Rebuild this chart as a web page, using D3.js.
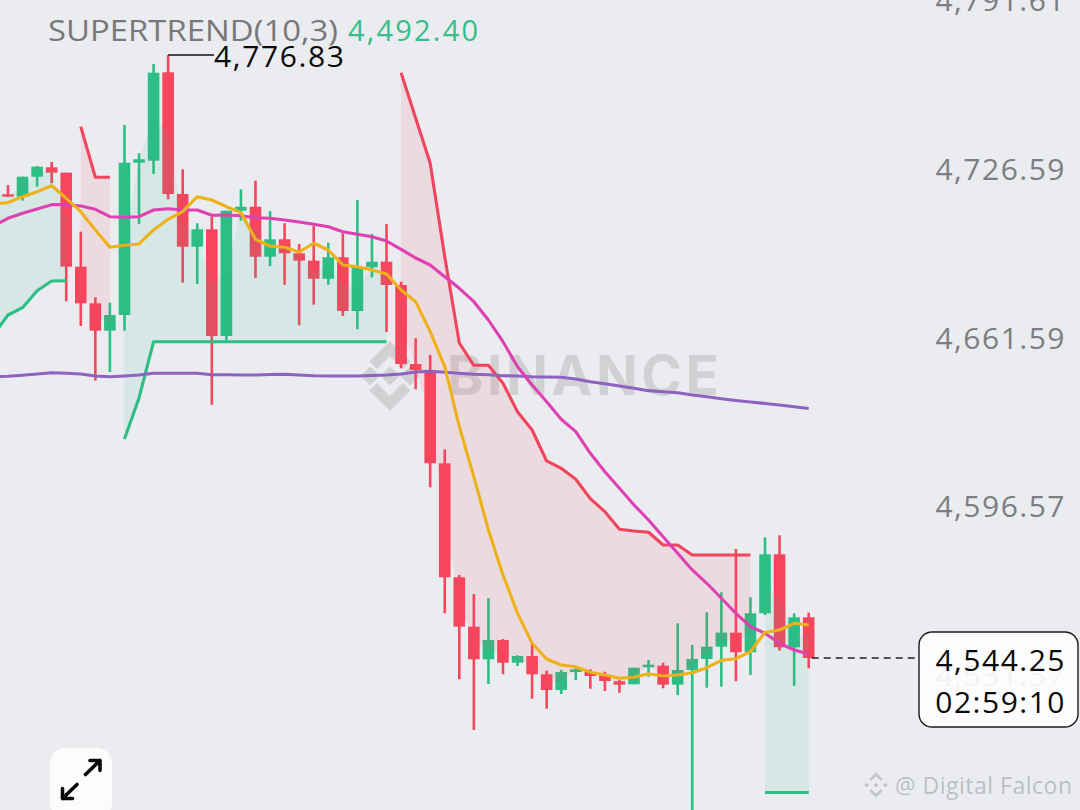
<!DOCTYPE html>
<html><head><meta charset="utf-8">
<style>html,body{margin:0;padding:0;background:#EAECF0;overflow:hidden}svg{display:block}text{font-family:"Open Sans","Noto Sans",sans-serif}</style>
<script src="https://cdn.jsdelivr.net/npm/d3@7"></script></head><body><div id="c"></div>
<script>
const opens=[4723.11,4722.18,4729.89,4733.52,4731.44,4695.18,4681.06,4670.50,4676.55,4735.29,4736.07,4770.16,4723.22,4702.90,4709.61,4668.45,4716.78,4718.32,4699.04,4705.75,4700.35,4697.50,4690.55,4698.81,4678.09,4694.95,4697.11,4688.12,4657.65,4655.34,4619.35,4575.38,4556.33,4543.75,4551.20,4542.44,4545.02,4537.97,4531.91,4538.85,4538.85,4537.31,4535.26,4534.11,4540.67,4541.28,4533.96,4539.62,4543.87,4548.61,4554.02,4546.45,4561.49,4584.25,4548.38,4559.95];
const highs=[4726.69,4729.89,4734.02,4735.56,4731.44,4708.68,4683.38,4681.30,4749.84,4738.92,4773.36,4776.83,4732.75,4711.92,4714.47,4716.78,4725.03,4728.35,4716.67,4711.92,4703.94,4710.88,4704.44,4708.06,4720.91,4707.79,4711.65,4689.39,4667.57,4661.12,4624.75,4576.27,4568.94,4567.28,4551.58,4545.29,4549.92,4539.36,4539.62,4540.28,4539.89,4538.97,4535.77,4540.51,4543.48,4542.44,4557.64,4549.27,4561.88,4569.59,4586.30,4567.66,4590.81,4591.58,4561.49,4561.73];
const lows=[4722.18,4720.64,4726.04,4727.35,4681.84,4672.31,4651.21,4654.57,4670.50,4711.65,4730.94,4721.18,4689.01,4688.51,4641.95,4666.64,4712.92,4690.82,4695.45,4688.24,4672.58,4680.52,4688.24,4676.17,4671.04,4691.09,4669.99,4655.99,4647.89,4610.09,4561.49,4536.04,4516.48,4534.22,4537.97,4541.17,4528.55,4524.70,4530.37,4535.77,4532.41,4531.52,4530.87,4534.11,4537.04,4532.56,4529.98,4477.91,4532.80,4533.18,4535.26,4537.70,4560.84,4547.07,4533.57,4540.28];
const closes=[4722.18,4729.89,4733.75,4731.44,4695.18,4681.06,4670.50,4676.55,4735.29,4736.61,4770.01,4723.22,4702.90,4709.61,4668.45,4716.78,4718.32,4699.04,4705.75,4700.35,4697.50,4690.55,4698.81,4678.09,4694.95,4697.11,4688.12,4657.65,4655.34,4619.35,4575.38,4556.33,4543.75,4551.20,4542.44,4545.02,4537.97,4531.91,4538.85,4539.89,4537.31,4535.38,4533.96,4540.51,4541.67,4533.96,4539.62,4543.87,4548.61,4554.02,4546.45,4561.49,4584.25,4548.38,4559.95,4544.25];
// moving averages: the first value belongs to the candle just left of the frame
const emaFast=[4719.37,4719.87,4722.18,4724.11,4726.42,4721.56,4716.40,4709.34,4702.66,4703.44,4703.94,4709.34,4713.46,4716.40,4722.18,4720.91,4718.32,4716.01,4705.75,4703.17,4702.66,4700.85,4704.21,4701.62,4695.84,4695.18,4693.91,4692.37,4686.19,4681.68,4670.11,4656.61,4633.47,4614.18,4593.62,4576.27,4561.49,4549.92,4543.87,4541.55,4540.90,4538.74,4537.70,4536.42,4536.81,4538.20,4537.31,4537.70,4538.58,4540.51,4543.37,4543.98,4546.68,4554.17,4555.06,4557.64,4556.98];
const emaMid=[4710.88,4713.85,4715.78,4717.44,4719.10,4719.10,4718.59,4717.32,4714.47,4714.24,4714.47,4717.05,4717.55,4717.05,4717.05,4715.01,4715.12,4714.85,4714.08,4713.85,4713.19,4712.42,4711.54,4710.61,4708.68,4707.68,4706.75,4705.09,4701.89,4698.54,4695.84,4691.32,4686.85,4681.68,4674.62,4666.25,4656.61,4649.55,4643.11,4636.32,4631.54,4623.21,4616.11,4609.71,4603.27,4597.48,4591.04,4584.64,4578.20,4573.07,4567.28,4561.49,4556.33,4553.78,4549.92,4547.34,4545.80];
const emaSlow=[4652.79,4652.91,4653.29,4653.79,4654.30,4654.06,4653.79,4653.02,4652.75,4653.02,4653.41,4654.06,4654.06,4654.06,4654.06,4653.52,4653.48,4653.41,4653.41,4653.60,4653.68,4653.41,4653.14,4653.02,4653.02,4653.02,4653.22,4653.41,4653.79,4654.57,4654.84,4654.45,4654.06,4653.68,4653.52,4653.14,4653.02,4652.75,4652.64,4652.52,4651.87,4650.83,4650.05,4649.17,4648.28,4647.36,4646.97,4646.58,4645.69,4645.04,4644.27,4643.57,4642.99,4642.42,4641.84,4641.14,4640.49];
// supertrend runs: [first candle index, trend, values]
const stUpA=[4668.84,4676.55,4679.37,4685.92,4689.67,4689.78];
const stDownA=[4749.18,4729.66,4729.66];
const stUpB=[4628.72,4644.54,4666.25,4666.25,4666.25,4666.25,4666.25,4666.25,4666.25,4666.25,4666.25,4666.25,4666.25,4666.25,4666.25,4666.25,4666.25,4666.25,4666.25];
const stDownB=[4770.01,4752.54,4735.06,4699.04,4665.75,4657.15,4657.15,4650.21,4639.26,4632.19,4620.24,4617.42,4613.18,4605.70,4600.68,4593.89,4593.24,4592.74,4587.84,4587.84,4583.98,4583.98,4583.98,4583.98,4583.98];
const stUpC=[4492.40,4492.40,4492.40,4492.40];
const stRuns=[[-1,"up",stUpA],[5,"down",stDownA],[8,"up",stUpB],[27,"down",stDownB],[52,"up",stUpC]];
const priceTicks=[4791.61,4726.59,4661.59,4596.57,4531.57];
const lastPrice=4544.25, maxPrice=4776.83, stValue=4492.40, countdown="02:59:10";

const fmt=d3.format(",.2f");
const UP="#2EBD85",DOWN="#F6465D",BG="#EAECF0";
const W=1080,H=810;
const x=d3.scaleLinear().domain([0,55]).range([8,808.7]);
const y=d3.scaleLinear().domain([lastPrice,maxPrice]).range([658,55]);
const svg=d3.select("#c").append("svg").attr("width",W).attr("height",H);
svg.append("rect").attr("width",W).attr("height",H).attr("fill",BG);

// BINANCE watermark
const wm=svg.append("g").attr("fill","#D0D1D3");
const lg=wm.append("g").attr("transform","translate(390,376)");
lg.append("path").attr("d","M0,-35 L20.5,-14.5 L13,-7 L0,-20 L-13,-7 L-20.5,-14.5 Z");
lg.append("path").attr("d","M0,35 L20.5,14.5 L13,7 L0,20 L-13,7 L-20.5,14.5 Z");
lg.append("path").attr("d","M0,-9.5 L9.5,0 L0,9.5 L-9.5,0 Z");
lg.append("path").attr("d","M-20,-9.5 L-10.5,0 L-20,9.5 L-29.5,0 Z");
lg.append("path").attr("d","M20,-9.5 L29.5,0 L20,9.5 L10.5,0 Z");
wm.append("text").attr("x",447).attr("y",395).attr("font-size",55).attr("font-weight",700).attr("textLength",272).attr("lengthAdjust","spacing").style("font-family","Inter,'Open Sans',sans-serif").text("BINANCE");

// candles
const candles=d3.range(opens.length).map(i=>({i,o:opens[i],h:highs[i],l:lows[i],c:closes[i]}));
const cg=svg.append("g");
cg.selectAll("line").data(candles).join("line")
  .attr("x1",d=>x(d.i)).attr("x2",d=>x(d.i)).attr("y1",d=>y(d.h)).attr("y2",d=>y(d.l))
  .attr("stroke",d=>d.c>=d.o?UP:DOWN).attr("stroke-width",2.6);
cg.selectAll("rect").data(candles).join("rect")
  .attr("x",d=>x(d.i)-5.8).attr("width",11.6)
  .attr("y",d=>y(Math.max(d.o,d.c))).attr("height",d=>Math.max(2,Math.abs(y(d.o)-y(d.c))))
  .attr("fill",d=>d.c>=d.o?UP:DOWN);

// supertrend fills, from the trend line to the candle body middle
const mid=i=>(opens[Math.max(i,0)]+closes[Math.max(i,0)])/2;
const fg=svg.append("g");
stRuns.forEach(([s,t,v])=>{
  const pts=v.map((p,k)=>({i:s+k,p}));
  fg.append("path").datum(pts)
    .attr("d",d3.area().x(d=>x(d.i)).y0(d=>y(d.p)).y1(d=>y(mid(d.i))))
    .attr("fill",t==="up"?UP:DOWN).attr("fill-opacity",0.1);
});

// lines
const ln=svg.append("g").attr("fill","none").attr("stroke-linejoin","round");
const line=d3.line().x(d=>x(d.i)).y(d=>y(d.p));
stRuns.forEach(([s,t,v])=>{
  ln.append("path").datum(v.map((p,k)=>({i:s+k,p}))).attr("d",line)
    .attr("stroke",t==="up"?UP:"#F0455C").attr("stroke-width",3.1);
});
[[emaSlow,"#8E62C2"],[emaMid,"#DF41B2"],[emaFast,"#EFB118"]].forEach(([v,col])=>{
  ln.append("path").datum(v.map((p,k)=>({i:k-1,p}))).attr("d",line).attr("stroke",col).attr("stroke-width",3.1);
});

// price axis labels (drawn slightly above their price level)
svg.append("g").selectAll("text").data(priceTicks).join("text")
  .attr("x",1066).attr("y",d=>y(d)-16).attr("dy","0.36em").attr("text-anchor","end")
  .attr("font-size",30).attr("letter-spacing",1.5).attr("fill","#7C7E82").text(fmt);

// indicator legend
svg.append("text").attr("x",48).attr("y",41).attr("font-size",29).attr("fill","#78787A").attr("textLength",290).attr("lengthAdjust","spacingAndGlyphs").text("SUPERTREND(10,3)");
svg.append("text").attr("x",348).attr("y",41).attr("font-size",29).attr("fill","#37BD8A").attr("textLength",130).attr("lengthAdjust","spacing").text(fmt(stValue));

// max marker
svg.append("line").attr("x1",x(11)).attr("x2",214).attr("y1",y(maxPrice)).attr("y2",y(maxPrice)).attr("stroke","#111").attr("stroke-width",1.3);
svg.append("text").attr("x",214).attr("y",y(maxPrice)+1).attr("dy","0.36em").attr("font-size",30).attr("fill","#0B0B0B").attr("textLength",130).attr("lengthAdjust","spacing").text(fmt(maxPrice));

// last price
svg.append("line").attr("x1",x(55)+3).attr("x2",918).attr("y1",y(lastPrice)).attr("y2",y(lastPrice)).attr("stroke","#222").attr("stroke-width",1.3).attr("stroke-dasharray","7 5");
svg.append("rect").attr("x",919).attr("y",632).attr("width",159).attr("height",95).attr("rx",13).attr("fill","#FDFDFD").attr("fill-opacity",0.92).attr("stroke","#1a1a1a").attr("stroke-width",1.4);
[[lastPrice,660],[null,702]].forEach(([v,py])=>{
  svg.append("text").attr("x",1066).attr("y",py).attr("dy","0.36em").attr("text-anchor","end").attr("font-size",30).attr("letter-spacing",1.5).attr("fill","#0B0B0B").text(v===null?countdown:fmt(v));
});

// expand button
const btn=svg.append("g");
btn.append("rect").attr("x",50).attr("y",748).attr("width",62).attr("height",70).attr("rx",15).attr("fill","#FCFCFD");
const ic=btn.append("g").attr("fill","none").attr("stroke","#0A0A0A").attr("stroke-width",3.6).attr("stroke-linecap","round").attr("stroke-linejoin","round");
ic.append("path").attr("d","M85.5,774.5 L100,760.5 M90,760.5 H100 V770.5");
ic.append("path").attr("d","M77,784.5 L62.5,798.5 M62.5,788.5 V798.5 H72.5");

// source stamp
const st=svg.append("g");
const sl=st.append("g").attr("transform","translate(876,785)").attr("fill","#C3C7CD").attr("stroke","#F8F8F9").attr("stroke-width",1);
sl.append("path").attr("d","M0,-13.5 L7.5,-6 L4.8,-3.3 L0,-8 L-4.8,-3.3 L-7.5,-6 Z");
sl.append("path").attr("d","M0,13.5 L7.5,6 L4.8,3.3 L0,8 L-4.8,3.3 L-7.5,6 Z");
sl.append("path").attr("d","M0,-3.2 L3.2,0 L0,3.2 L-3.2,0 Z");
sl.append("path").attr("d","M-9.5,-3.2 L-6.3,0 L-9.5,3.2 L-12.7,0 Z");
sl.append("path").attr("d","M9.5,-3.2 L12.7,0 L9.5,3.2 L6.3,0 Z");
st.append("text").attr("x",895).attr("y",794).attr("font-size",23).attr("fill","#BABEC4").attr("stroke","#F6F7F8").attr("stroke-width",0.6).attr("paint-order","stroke").attr("textLength",177).attr("lengthAdjust","spacing").text("@ Digital Falcon");
</script></body></html>
